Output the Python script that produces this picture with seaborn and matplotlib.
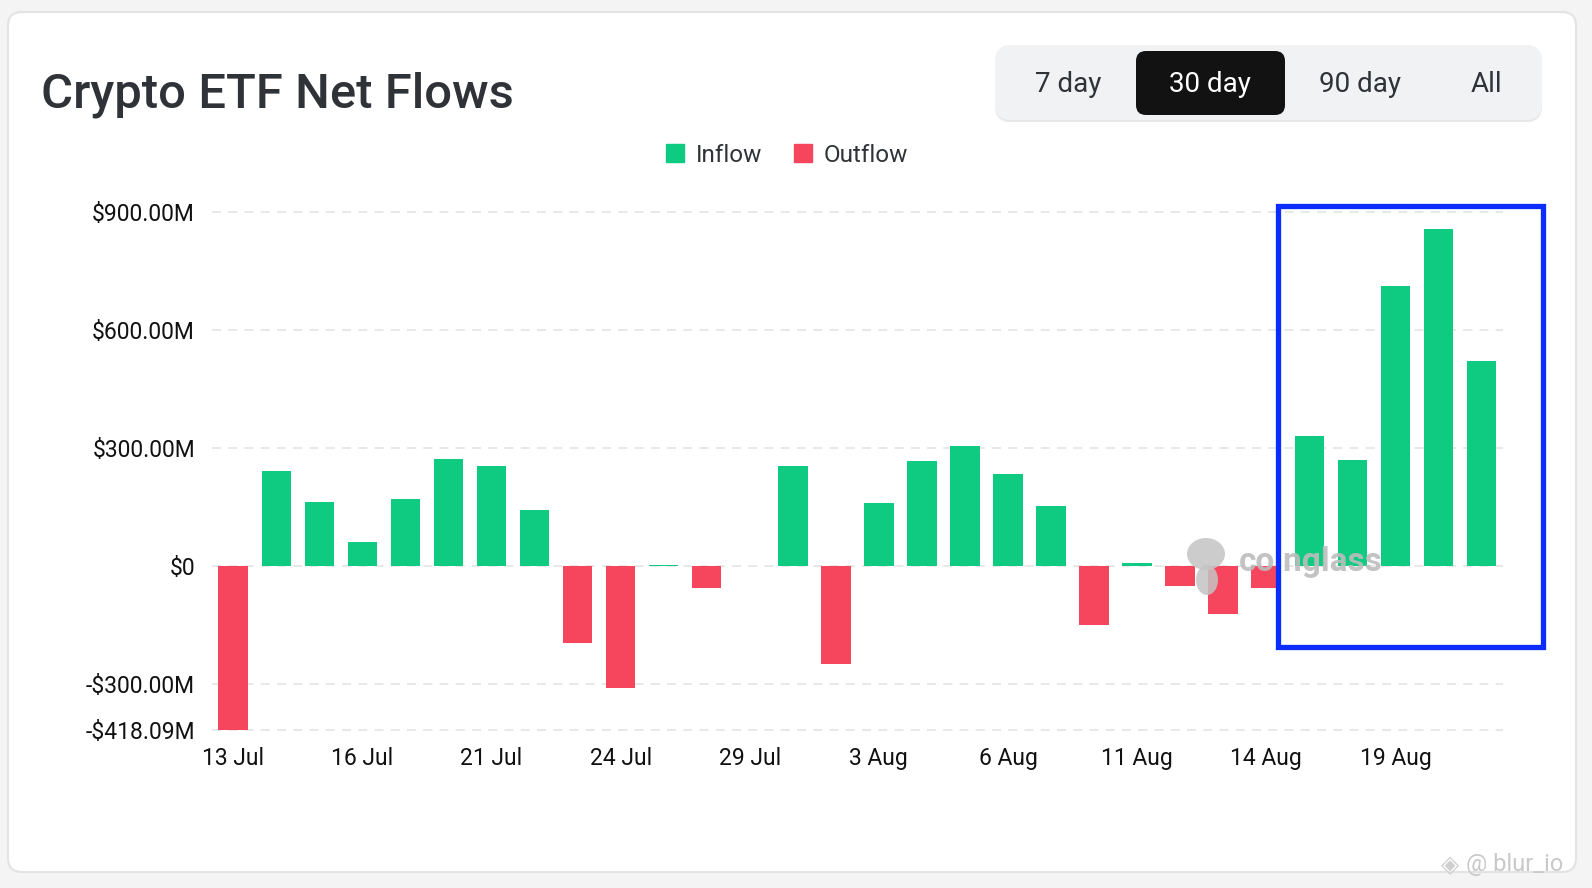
import matplotlib
matplotlib.use("Agg")
import matplotlib.pyplot as plt
from matplotlib.patches import FancyBboxPatch, Rectangle, Ellipse
from matplotlib.lines import Line2D
import seaborn as sns
import pandas as pd

# ---- data ($M) ----
dates = ["13 Jul", "14 Jul", "15 Jul", "16 Jul", "17 Jul", "18 Jul", "21 Jul", "22 Jul",
         "23 Jul", "24 Jul", "25 Jul", "28 Jul", "29 Jul", "30 Jul", "31 Jul", "3 Aug",
         "4 Aug", "5 Aug", "6 Aug", "7 Aug", "8 Aug", "11 Aug", "12 Aug", "13 Aug",
         "14 Aug", "15 Aug", "18 Aug", "19 Aug", "20 Aug", "21 Aug"]
net_flows = [-418.09, 240, 161, 59, 169, 270, 253, 141, -198, -311, 2, -58, 0, 253, -249,
             159, 265, 303, 233, 152, -150, 6, -53, -123, -56, 329, 269, 710, 855, 521]
ytick_vals = [-418.09, -300, 0, 300, 600, 900]
ytick_labels = ["-$418.09M", "-$300.00M", "$0", "$300.00M", "$600.00M", "$900.00M"]
ranges = ["7 day", "30 day", "90 day", "All"]
selected_range = "30 day"

GREEN = "#0ecb81"
RED = "#f6465d"

df = pd.DataFrame({"date": dates, "flow": net_flows})
df["kind"] = ["Outflow" if v < 0 else "Inflow" for v in net_flows]

sns.set_theme(style="white")
plt.rcParams["font.family"] = ["Roboto", "DejaVu Sans"]

W, H = 1592, 888
fig = plt.figure(figsize=(W / 100, H / 100), dpi=100)
fig.patch.set_facecolor("#f4f4f4")
px = fig.dpi_scale_trans


def P(x, y):
    # pixel (from top-left) -> inches for dpi_scale_trans
    return x / 100, (H - y) / 100


# card (behind the axes)
cx, cy = P(8, 872)
card = FancyBboxPatch((cx, cy), (1576 - 8) / 100, (872 - 12) / 100,
                      boxstyle="round,pad=0,rounding_size=0.14",
                      fc="white", ec="#e3e3e3", lw=1.5, transform=px, zorder=-5)
fig.patches.append(card)

# chart
ax_l, ax_r, ax_t, ax_b = 211.7, 1503, 211.7, 730
ax = fig.add_axes([ax_l / W, (H - ax_b) / H, (ax_r - ax_l) / W, (ax_b - ax_t) / H])
ax.set_facecolor("none")

sns.barplot(data=df, x="date", y="flow", hue="kind", order=dates,
            hue_order=["Inflow", "Outflow"], palette={"Inflow": GREEN, "Outflow": RED},
            dodge=False, width=0.686, linewidth=0, saturation=1, legend=False, ax=ax, zorder=3)

ax.set_xlim(-0.5, len(dates) - 0.5)
ax.set_ylim(ytick_vals[0], ytick_vals[-1])
ax.set_yticks(ytick_vals)
ax.set_yticklabels(ytick_labels)
ax.set_xticks(range(0, len(dates), 3))
ax.set_xticklabels(dates[::3])
ax.tick_params(axis="y", length=0, pad=12, labelsize=16.5, labelcolor="#111111")
ax.tick_params(axis="x", length=0, pad=12, labelsize=16.5, labelcolor="#111111")
ax.set_xlabel("")
ax.set_ylabel("")
for s in ax.spines.values():
    s.set_visible(False)
for v in ytick_vals:
    ax.axhline(v, color="#e6e6e6", lw=1.3, ls=(0, (5, 4)), zorder=1, clip_on=False)

# title
fig.text(*P(41, 107), "Crypto ETF Net Flows", transform=px, fontsize=35.3,
         fontweight="medium", color="#2f3338", ha="left", va="baseline")

# legend
handles = [Line2D([], [], marker="s", ls="", markersize=13.5, color=GREEN),
           Line2D([], [], marker="s", ls="", markersize=13.5, color=RED)]
fig.legend(handles, ["Inflow", "Outflow"], loc="center", ncol=2, frameon=False,
           bbox_to_anchor=P(786, 155), bbox_transform=px, fontsize=17.5,
           handletextpad=0.4, columnspacing=1.2, handlelength=0.9, labelcolor="#2f3338")

# range selector
bx, by = P(995, 120)
fig.patches.append(FancyBboxPatch((bx, by - 0.02), 5.47, 0.75, boxstyle="round,pad=0,rounding_size=0.16",
                                  fc="#e6e7e9", ec="none", transform=px, zorder=1))
fig.patches.append(FancyBboxPatch((bx, by), 5.47, 0.75, boxstyle="round,pad=0,rounding_size=0.16",
                                  fc="#f1f2f4", ec="none", transform=px, zorder=1))
sx, sy = P(1136, 115)
fig.patches.append(FancyBboxPatch((sx, sy), 1.49, 0.64, boxstyle="round,pad=0,rounding_size=0.1",
                                  fc="#121212", ec="none", transform=px, zorder=2))
for label, xc in zip(ranges, [1068, 1210, 1360, 1486]):
    sel = label == selected_range
    fig.text(*P(xc, 84), label, transform=px, fontsize=20, ha="center", va="center",
             color="white" if sel else "#2f3338", zorder=3)

# highlight box
rx0, ry0 = P(1277.5, 646.5)
fig.patches.append(Rectangle((rx0, ry0), (1543 - 1277.5) / 100, (646.5 - 206) / 100,
                             fill=False, ec="#0a2cff", lw=3.8, transform=px, zorder=6))

# watermarks
fig.patches.append(Ellipse(P(1206, 554), 0.38, 0.32, fc="#c4c4c4", ec="none", alpha=0.85,
                           transform=px, zorder=5))
fig.patches.append(Ellipse(P(1207, 580), 0.22, 0.3, fc="#c4c4c4", ec="none", alpha=0.85,
                           transform=px, zorder=5))
fig.text(*P(1311, 562), "coinglass", transform=px, fontsize=24, fontweight="bold",
         color="#bdbdbd", alpha=0.9, ha="center", va="center", zorder=5)
fig.text(*P(1450, 865), "◈", transform=px, fontsize=17, color="#cfcfcf", ha="center",
         va="center", family=["DejaVu Sans"])
fig.text(*P(1466, 864), "@ blur_io", transform=px, fontsize=17, color="#c9c9c9",
         ha="left", va="center")

fig.savefig("out.png", dpi=100, facecolor=fig.get_facecolor())
